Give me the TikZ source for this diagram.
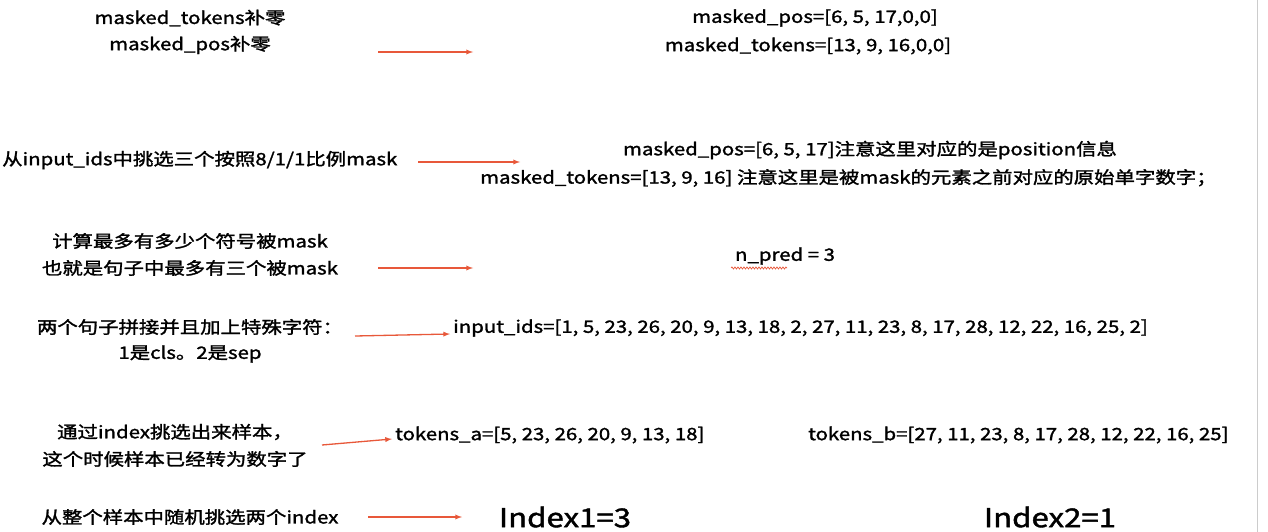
\documentclass[tikz,border=0pt]{standalone}
\usepackage{fontspec}
\setmainfont{Noto Sans CJK SC}[FakeBold=1.6,FakeStretch=1.2]
\usetikzlibrary{decorations.pathmorphing}
\definecolor{arr}{HTML}{E8583A}
\begin{document}
\begin{tikzpicture}[x=1pt,y=-1pt,
  t/.style={inner sep=0pt,font=\fontsize{17}{20}\selectfont},
  big/.style={inner sep=0pt,font=\fontsize{26}{30}\selectfont},
  a/.style={draw=arr,line width=1.3pt,-latex}]
\useasboundingbox[fill=white] (0,0) rectangle (1268,532);
\draw[gray!40,line width=1pt] (1257,0) -- (1257,532);
% left
\node[t] (l1a) at (190,18) {masked\_tokens补零};
\node[t] (l1b) at (190,45) {masked\_pos补零};
\node[t,anchor=west] (l2) at (2,160) {从input\_ids中挑选三个按照8/1/1比例mask};
\node[t] (l3a) at (190,241) {计算最多有多少个符号被mask};
\node[t] (l3b) at (190,268) {也就是句子中最多有三个被mask};
\node[t] (l4a) at (190,327) {两个句子拼接并且加上特殊字符：};
\node[t] (l4b) at (190,354) {1是cls。2是sep};
\node[t] (l5a) at (175,432) {通过index挑选出来样本，};
\node[t] (l5b) at (175,459) {这个时候样本已经转为数字了};
\node[t] (l6) at (190,517) {从整个样本中随机挑选两个index};
% right
\node[t] (r1a) at (815,18) {masked\_pos=[6, 5, 17,0,0]};
\node[t] (r1b) at (808,46) {masked\_tokens=[13, 9, 16,0,0]};
\node[t] (r2a) at (870,150) {masked\_pos=[6, 5, 17]注意这里对应的是position信息};
\node[t,anchor=west] (r2b) at (480,178) {masked\_tokens=[13, 9, 16] 注意这里是被mask的元素之前对应的原始单字数字；};
\node[t] (r3) at (785,256) {n\_pred = 3};
\coordinate (w1) at (731,268); \coordinate (w2) at (787,268);
\draw[arr,line width=0.7pt,decorate,decoration={snake,segment length=3pt,amplitude=1pt}] (w1) -- (w2);
\node[t,anchor=west] (r4) at (453,328) {input\_ids=[1, 5, 23, 26, 20, 9, 13, 18, 2, 27, 11, 23, 8, 17, 28, 12, 22, 16, 25, 2]};
\node[t,anchor=west] (r5a) at (395,435) {tokens\_a=[5, 23, 26, 20, 9, 13, 18]};
\node[t,anchor=west] (r5b) at (808,435) {tokens\_b=[27, 11, 23, 8, 17, 28, 12, 22, 16, 25]};
\node[big] (r6a) at (565,517) {Index1=3};
\node[big] (r6b) at (1050,517) {Index2=1};
% arrows
\coordinate (s1) at (378,52); \coordinate (e1) at (473,52);
\coordinate (s2) at (418,162); \coordinate (e2) at (520,162);
\coordinate (s3) at (378,268); \coordinate (e3) at (473,268);
\coordinate (s4) at (355,336); \coordinate (e4) at (450,334);
\coordinate (s5) at (322,445); \coordinate (e5) at (392,439);
\coordinate (s6) at (368,517); \coordinate (e6) at (462,517);
\foreach \i in {1,...,6}{\draw[a] (s\i) -- (e\i);}
\end{tikzpicture}
\end{document}
